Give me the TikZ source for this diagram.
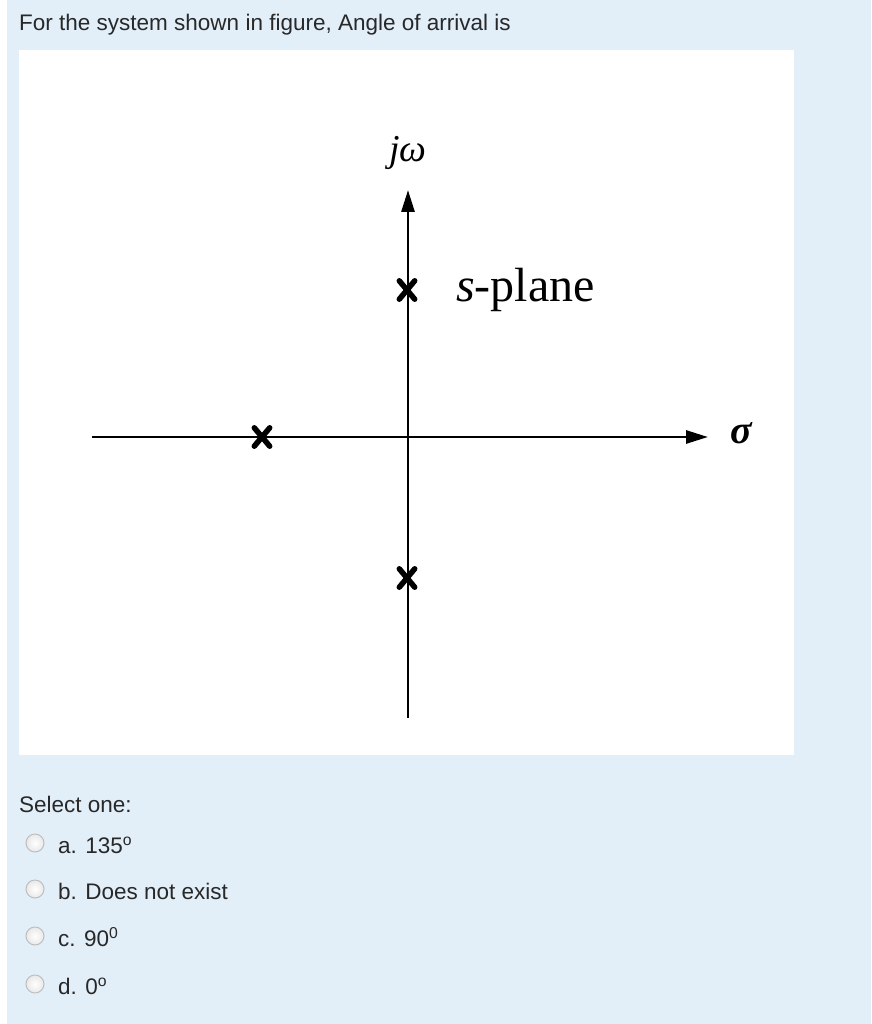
\documentclass[tikz,border=0pt]{standalone}
\usepackage{fontspec}
\setmainfont{Liberation Sans}
\newfontfamily\figserif{Liberation Serif}
\usetikzlibrary{arrows.meta}
\definecolor{panelblue}{RGB}{226,239,249}
\definecolor{radioedge}{RGB}{190,190,190}
\definecolor{radiofill}{RGB}{232,232,232}
\definecolor{qtext}{RGB}{40,40,40}
\tikzset{
  qlabel/.style={anchor=base west, inner sep=0pt, text=qtext, font=\fontsize{22.5}{26}\selectfont},
  radio/.style={circle, draw=radioedge, line width=1pt, inner sep=0pt, minimum size=18pt,
    inner color=white, outer color=radiofill},
  axis/.style={line width=2.8pt, -{Triangle[length=22pt,width=13pt]}},
  pole/.style={inner sep=0pt, minimum width=15pt, minimum height=18pt},
  polex/.style={line width=5.5pt, line cap=round},
  figlabel/.style={inner sep=0pt, font=\figserif}
}
\begin{document}
\begin{tikzpicture}[x=1pt,y=-1pt]
\useasboundingbox (0,0) rectangle (871,1024);
\fill[white] (0,0) rectangle (871,1024);
\fill[panelblue] (7,0) rectangle (871,1024);
\fill[white] (19,50) rectangle (794,755);

\node[qlabel] (question) at (19,31) {For the system shown in figure, Angle of arrival is};

% axes
\coordinate (origin) at (408,437);
\coordinate (vbot) at (408,718);
\coordinate (vtop) at (408,190);
\coordinate (hleft) at (92,437);
\coordinate (hright) at (708,437);
\draw[line width=2.8pt] (origin) -- (vbot);
\draw[axis] (origin) -- (vtop);
\draw[line width=2.8pt] (hleft) -- (origin);
\draw[axis] (origin) -- (hright);

% poles
\node[pole] (p1) at (407,290) {};
\node[pole] (p2) at (262,437) {};
\node[pole] (p3) at (407,578) {};
\foreach \p in {p1,p2,p3}
  \draw[polex] (\p.north west) -- (\p.south east) (\p.north east) -- (\p.south west);

% labels
\node[figlabel, font=\figserif\itshape\fontsize{38}{40}\selectfont] (jw) at (408,153) {jω};
\node[figlabel, anchor=west, font=\figserif\fontsize{48}{50}\selectfont] (splane) at (456,290) {\textit{s}-plane};
\node[figlabel, font=\figserif\bfseries\itshape\fontsize{40}{42}\selectfont] (sigma) at (741,433) {σ};

% options
\node[qlabel] (select) at (19,812) {Select one:};
\node[radio] (ra) at (35,843) {};
\node[radio] (rb) at (35,889) {};
\node[radio] (rc) at (35,936) {};
\node[radio] (rd) at (35,984) {};
\node[qlabel] (oa) at (58,853) {a. 135\textsuperscript{o}};
\node[qlabel] (ob) at (58,899) {b. Does not exist};
\node[qlabel] (oc) at (58,946) {c. 90\textsuperscript{0}};
\node[qlabel] (od) at (58,994) {d. 0\textsuperscript{o}};
\end{tikzpicture}
\end{document}
